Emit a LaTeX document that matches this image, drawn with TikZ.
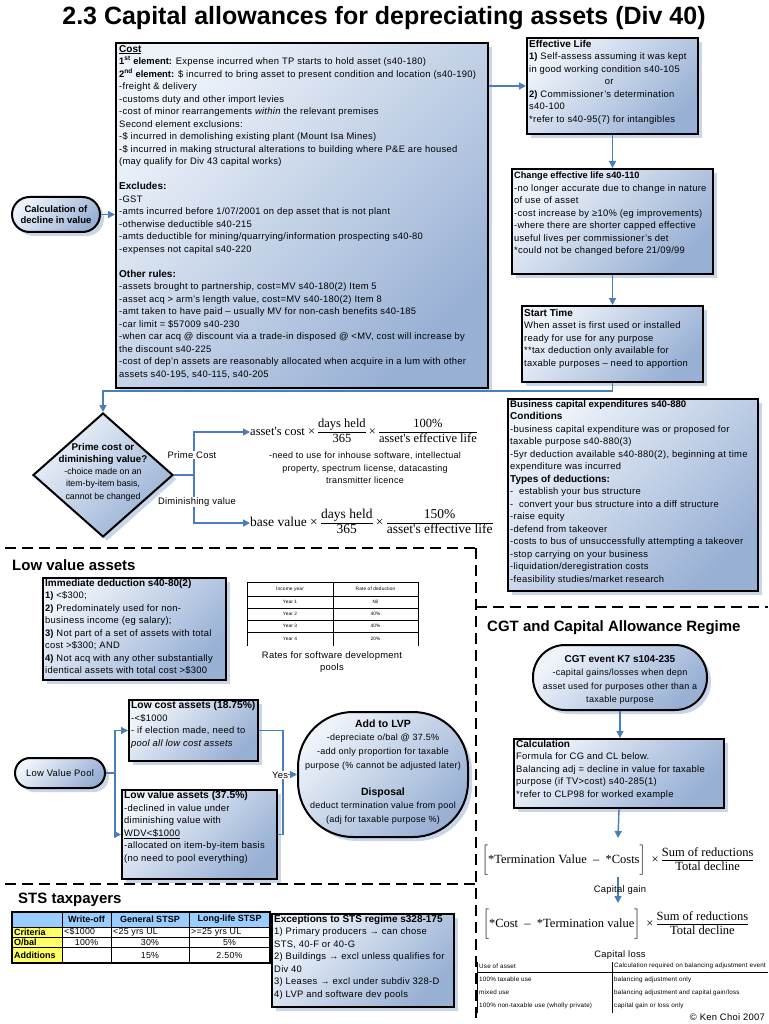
\documentclass[tikz,border=0pt]{standalone}
\usepackage{fontspec}
\setmainfont{Liberation Sans}[UprightFeatures={LetterSpace=3}, ItalicFeatures={LetterSpace=3}]
\newfontfamily\hdf{Liberation Sans}
\newfontfamily\tnr{Liberation Serif}
\usetikzlibrary{shapes.geometric,shadows,arrows.meta}
\definecolor{bxA}{HTML}{EEF3FA}
\definecolor{bxB}{HTML}{98B0D4}
\definecolor{shd}{HTML}{C9D6EA}
\definecolor{ln}{HTML}{4A7EBB}
\definecolor{hdb}{HTML}{99CCFF}
\definecolor{yel}{HTML}{FFFF66}
\newcommand\fsn{\fontsize{9.4}{12.5}\selectfont}
\newcommand\bhd[1]{{\fontsize{10}{12.5}\selectfont\bfseries #1}}
\newcommand\myfrac[2]{$\vcenter{\hbox{\begin{tabular}{@{}c@{}}#1\\\hline #2\end{tabular}}}$}
\begin{document}
\begin{tikzpicture}[x=1pt,y=-1pt,
 box/.style={draw=black, line width=2pt, top color=bxA, bottom color=bxB, shading angle=45,
   drop shadow={shadow xshift=4pt, shadow yshift=-4pt, fill=shd, opacity=1}, inner sep=0pt, anchor=north west},
 oval/.style={box, anchor=center},
 txt/.style={anchor=north west, align=left, inner sep=0pt, font=\fsn},
 conn/.style={draw=ln, line width=1.4pt},
 arr/.style={conn, -{Triangle[length=7pt,width=7pt]}},
 dsh/.style={draw=black, line width=1.6pt, dash pattern=on 11pt off 6pt},
 lbl/.style={font=\fsn, inner sep=1pt},
 tiny/.style={font=\fontsize{6.3}{7}\selectfont, inner sep=0pt, anchor=west},
 swt/.style={font=\fontsize{4.8}{6}\selectfont, inner sep=0pt},
 stst/.style={font=\fontsize{8.8}{10}\selectfont, inner sep=0pt},
 stsb/.style={font=\fontsize{9}{10}\selectfont\bfseries, inner sep=0pt},
 hding/.style={font=\fontsize{15}{17}\selectfont\bfseries, inner sep=0pt, anchor=west},
]
\useasboundingbox (0,0) rectangle (768,1024);
\fill[white] (0,0) rectangle (768,1024);

% title
\node[font=\fontsize{25}{28}\selectfont\bfseries, inner sep=0pt] (title) at (384,18) {2.3 Capital allowances for depreciating assets (Div 40)};

% dashed separators
\draw[dsh] (5,548) -- (476,548);
\draw[dsh] (476,548) -- (476,1022);
\draw[dsh] (476,607) -- (768,607);
\draw[dsh] (5,884) -- (476,884);

% Cost box
\node[box, minimum width=372pt, minimum height=345pt] (cost) at (115,42) {};
\node[txt] (costT) at (119,45) {\bhd{\underline{Cost}}\\
\textbf{1\textsuperscript{st} element:} Expense incurred when TP starts to hold asset (s40-180)\\
\textbf{2\textsuperscript{nd} element:} \$ incurred to bring asset to present condition and location (s40-190)\\
-freight \& delivery\\
-customs duty and other import levies\\
-cost of minor rearrangements \textit{within} the relevant premises\\
Second element exclusions:\\
-\$ incurred in demolishing existing plant (Mount Isa Mines)\\
-\$ incurred in making structural alterations to building where P\&E are housed\\
(may qualify for Div 43 capital works)\\
~\\
\bhd{Excludes:}\\
-GST\\
-amts incurred before 1/07/2001 on dep asset that is not plant\\
-otherwise deductible s40-215\\
-amts deductible for mining/quarrying/information prospecting s40-80\\
-expenses not capital s40-220\\
~\\
\bhd{Other rules:}\\
-assets brought to partnership, cost=MV s40-180(2) Item 5\\
-asset acq > arm's length value, cost=MV s40-180(2) Item 8\\
-amt taken to have paid – usually MV for non-cash benefits s40-185\\
-car limit = \$57009 s40-230\\
-when car acq @ discount via a trade-in disposed @ <MV, cost will increase by\\
the discount s40-225\\
-cost of dep'n assets are reasonably allocated when acquire in a lum with other\\
assets s40-195, s40-115, s40-205};

% Calculation of decline
\node[oval, minimum width=88pt, minimum height=35pt, rounded corners=17.5pt] (calc) at (56,214.5) {};
\node[font=\fontsize{9.5}{11.5}\selectfont\bfseries, align=center, inner sep=0pt] (calcT) at (calc.center) {Calculation of\\decline in value};
\draw[arr] (calc.east) -- (cost.west |- calc.east);

% Effective life
\node[box, minimum width=171pt, minimum height=96pt] (el) at (526,37) {};
\node[txt] (elT) at (529,40) {\bhd{Effective Life}\\
\textbf{1)} Self-assess assuming it was kept\\
in good working condition s40-105\\
\makebox[160pt]{or}\\
\textbf{2)} Commissioner's determination\\
s40-100\\
*refer to s40-95(7) for intangibles};
\draw[arr] (cost.east |- el.west) -- (el.west);

% Change effective life
\node[box, minimum width=201pt, minimum height=105pt] (chg) at (511,168) {};
\node[txt] (chgT) at (514,172) {{\fontsize{9.2}{12.5}\selectfont\bfseries Change effective life s40-110}\\
-no longer accurate due to change in nature\\
of use of asset\\
-cost increase by ≥10\% (eg improvements)\\
-where there are shorter capped effective\\
useful lives per commissioner's det\\
*could not be changed before 21/09/99};
\draw[arr] (el.south) -- (chg.north);

% Start time
\node[box, minimum width=181pt, minimum height=76pt] (start) at (521,305) {};
\node[txt] (startT) at (524,309) {\bhd{Start Time}\\
When asset is first used or installed\\
ready for use for any purpose\\
**tax deduction only available for\\
taxable purposes – need to apportion};
\draw[arr] (chg.south) -- (start.north);

% Business capital expenditures
\node[box, minimum width=250pt, minimum height=192pt] (bce) at (507,398) {};
\node[txt] (bceT) at (510,400) {{\fontsize{9.6}{12.5}\selectfont\bfseries Business capital expenditures s40-880}\\
\bhd{Conditions}\\
-business capital expenditure was or proposed for\\
taxable purpose s40-880(3)\\
-5yr deduction available s40-880(2), beginning at time\\
expenditure was incurred\\
\bhd{Types of deductions:}\\
-\ \ establish your bus structure\\
-\ \ convert your bus structure into a diff structure\\
-raise equity\\
-defend from takeover\\
-costs to bus of unsuccessfully attempting a takeover\\
-stop carrying on your business\\
-liquidation/deregistration costs\\
-feasibility studies/market research};

% Diamond
\node[draw=black, line width=2pt, shape=diamond, minimum width=140pt, minimum height=124pt, inner sep=0pt,
  top color=bxA, bottom color=bxB, shading angle=45,
  drop shadow={shadow xshift=4pt, shadow yshift=-4pt, fill=shd, opacity=1}] (diam) at (103,475) {};
\node[font=\hdf\fontsize{8.8}{12.3}\selectfont, align=center, inner sep=0pt] (diamT) at (103,472) {{\fontsize{9.8}{12.3}\selectfont\bfseries Prime cost or}\\
{\fontsize{9.8}{12.3}\selectfont\bfseries diminishing value?}\\
-choice made on an\\
item-by-item basis,\\
cannot be changed};
\coordinate (turn) at (0,391);
\draw[arr] (start.south) -- (start.south |- turn) -| (diam.north);

% formulas
\node[anchor=west, font=\tnr\fontsize{12.5}{14}\selectfont, inner sep=0pt] (f1) at (250,432)
 {asset's cost × \myfrac{days held}{365} × \myfrac{100\%}{asset's effective life}};
\node[anchor=west, font=\tnr\fontsize{13.5}{15}\selectfont, inner sep=0pt] (f2) at (250,523)
 {base value × \myfrac{days held}{365} × \myfrac{150\%}{asset's effective life}};
\node[font=\fontsize{9}{12.5}\selectfont, align=center, inner sep=0pt] (note) at (365,468)
 {-need to use for inhouse software, intellectual\\property, spectrum license, datacasting\\transmitter licence};
\coordinate (dj) at (194,475);
\draw[conn] (diam.east) -- (dj);
\draw[arr] (dj) |- (f1.west);
\draw[arr] (dj) |- (f2.west);
\node[lbl, fill=white] (pcl) at (192,455) {Prime Cost};
\node[lbl, fill=white] (dvl) at (197,502) {Diminishing value};

% Low value assets
\node[hding] (lvh) at (12,565) {Low value assets};
\node[box, minimum width=183pt, minimum height=102pt] (imm) at (42,577) {};
\node[txt] (immT) at (45,579) {\bhd{Immediate deduction s40-80(2)}\\
\textbf{1)} <\$300;\\
\textbf{2)} Predominately used for non-\\
business income (eg salary);\\
\textbf{3)} Not part of a set of assets with total\\
cost >\$300; AND\\
\textbf{4)} Not acq with any other substantially\\
identical assets with total cost >\$300};

% software table
\draw[line width=0.8pt] (247,582) -- (418,582) (247,596) -- (418,596) (247,608) -- (418,608)
  (247,620) -- (418,620) (247,632) -- (418,632);
\draw[line width=0.6pt] (247,582) -- (247,646) (333,582) -- (333,646) (418,582) -- (418,646);
\node[swt] (sw1) at (290,589) {Income year};
\node[swt] (sw2) at (375.5,589) {Rate of deduction};
\node[swt] (sw3) at (290,602) {Year 1};
\node[swt] (sw4) at (375.5,602) {Nil};
\node[swt] (sw5) at (290,614) {Year 2};
\node[swt] (sw6) at (375.5,614) {40\%};
\node[swt] (sw7) at (290,626) {Year 3};
\node[swt] (sw8) at (375.5,626) {40\%};
\node[swt] (sw9) at (290,639) {Year 4};
\node[swt] (sw10) at (375.5,639) {20\%};
\node[font=\fontsize{9.4}{12.5}\selectfont, align=center, inner sep=0pt] (swcap) at (332,662) {Rates for software development\\pools};

% Low value pool
\node[oval, minimum width=90pt, minimum height=30pt, rounded corners=15pt] (lvp) at (60,773) {};
\node[font=\fsn, inner sep=0pt] (lvpT) at (lvp.center) {Low Value Pool};
\node[box, minimum width=129pt, minimum height=61pt] (lca) at (128,699) {};
\node[txt] (lcaT) at (131,701) {{\fontsize{10.3}{12.5}\selectfont\bfseries Low cost assets (18.75\%)}\\
-<\$1000\\
- if election made, need to\\
\textit{pool all low cost assets}};
\node[box, minimum width=155pt, minimum height=89pt] (lva) at (121,789) {};
\node[txt] (lvaT) at (124,791) {{\fontsize{10.3}{12.5}\selectfont\bfseries Low value assets (37.5\%)}\\
-declined in value under\\
diminishing value with\\
\underline{WDV<\$1000}\\
-allocated on item-by-item basis\\
(no need to pool everything)};
\coordinate (lvpj) at (115,773);
\draw[conn] (lvp.east) -- (lvpj);
\draw[arr] (lvpj) |- (lca.west);
\draw[arr] (lvpj) |- (lva.west);

\node[oval, minimum width=170pt, minimum height=125pt, rounded corners=55pt] (addl) at (383,774.5) {};
\node[font=\fontsize{9}{13.6}\selectfont, align=center, inner sep=0pt] (addlT) at (383,772) {{\fontsize{10.5}{13.6}\selectfont\bfseries Add to LVP}\\
-depreciate o/bal @ 37.5\%\\
-add only proportion for taxable\\
purpose (\% cannot be adjusted later)\\
~\\
{\fontsize{10.5}{13.6}\selectfont\bfseries Disposal}\\
deduct termination value from pool\\
(adj for taxable purpose \%)};
\coordinate (jn) at (283,774.5);
\draw[conn] (lca.east) -| (jn);
\draw[conn] (lva.east) -| (jn);
\draw[arr] (jn) -- (addl.west);
\node[lbl, fill=white, inner sep=0.5pt] (yes) at (280,775) {Yes};

% STS taxpayers
\node[hding] (stsh) at (18,900) {STS taxpayers};
\fill[hdb] (12,912) rectangle (270,927);
\fill[yel] (12,927) rectangle (62,963);
\draw[line width=0.6pt] (12,927) -- (270,927) (12,937) -- (270,937) (12,947) -- (270,947)
  (62,912) -- (62,963) (111,912) -- (111,963) (189,912) -- (189,963);
\draw[line width=1.8pt] (12,912) rectangle (270,963);
\node[stsb] (s1) at (86.5,919.5) {Write-off};
\node[stsb] (s2) at (150,919.5) {General STSP};
\node[stsb] (s3) at (229.5,919.5) {Long-life STSP};
\node[stsb, anchor=west] (s4) at (14,932) {Criteria};
\node[stsb, anchor=west] (s5) at (14,942) {O/bal};
\node[stsb, anchor=west] (s6) at (14,955) {Additions};
\node[stst, anchor=west] (s7) at (64,932) {<\$1000};
\node[stst, anchor=west] (s8) at (113,932) {<25 yrs UL};
\node[stst, anchor=west] (s9) at (191,932) {>=25 yrs UL};
\node[stst] (s10) at (86.5,942) {100\%};
\node[stst] (s11) at (150,942) {30\%};
\node[stst] (s12) at (229.5,942) {5\%};
\node[stst] (s13) at (150,955) {15\%};
\node[stst] (s14) at (229.5,955) {2.50\%};

\node[box, minimum width=182pt, minimum height=93pt] (exc) at (271,913) {};
\node[txt] (excT) at (274,915) {\bhd{Exceptions to STS regime s328-175}\\
1) Primary producers → can chose\\
STS, 40-F or 40-G\\
2) Buildings → excl unless qualifies for\\
Div 40\\
3) Leases → excl under subdiv 328-D\\
4) LVP and software dev pools};

% CGT
\node[hding] (cgth) at (487,628) {CGT and Capital Allowance Regime};
\node[oval, minimum width=174pt, minimum height=65pt, rounded corners=32pt] (k7) at (620,677.5) {};
\node[font=\fontsize{9}{13.5}\selectfont, align=center, inner sep=0pt] (k7T) at (620,680) {{\fontsize{10}{13.5}\selectfont\bfseries CGT event K7 s104-235}\\
-capital gains/losses when depn\\
asset used for purposes other than a\\
taxable purpose};
\node[box, minimum width=210pt, minimum height=69pt] (cgc) at (513,738) {};
\node[txt] (cgcT) at (516,740) {\bhd{Calculation}\\
Formula for CG and CL below.\\
Balancing adj = decline in value for taxable\\
purpose (if TV>cost) s40-285(1)\\
*refer to CLP98 for worked example};
\draw[arr] (k7.south) -- (k7.south |- cgc.north);
\coordinate (cgend) at (618,838);
\draw[arr] (cgc.south) -- (cgend);

\node[anchor=west, font=\tnr\fontsize{12.5}{14}\selectfont, inner sep=0pt] (cgf1) at (482,861)
 {$\left[\rule[-13pt]{0pt}{31pt}\mbox{*Termination Value \ – \ *Costs}\right]$ \ × \myfrac{Sum of reductions}{Total decline}};
\node[anchor=west, font=\tnr\fontsize{12.5}{14}\selectfont, inner sep=0pt] (cgf2) at (483,925)
 {$\left[\rule[-13pt]{0pt}{31pt}\mbox{*Cost \ – \ *Termination value}\right]$ \ × \myfrac{Sum of reductions}{Total decline}};
\coordinate (cga) at (618,877);
\coordinate (cgb) at (618,903);
\draw[arr] (cga) -- (cgb);
\node[font=\fontsize{9.4}{11}\selectfont, inner sep=0pt] (cgl) at (620,890) {Capital gain};
\node[font=\fontsize{9.4}{11}\selectfont, inner sep=0pt] (cll) at (620,955) {Capital loss};

% CGT table
\draw[line width=0.6pt] (477,972) -- (768,972) (612,962) -- (612,1013) (477,962) -- (477,1013);
\node[tiny] (c1) at (479,966) {Use of asset};
\node[tiny] (c2) at (614,966) {Calculation required on balancing adjustment event};
\node[tiny] (c3) at (479,979.5) {100\% taxable use};
\node[tiny] (c4) at (614,979.5) {balancing adjustment only};
\node[tiny] (c5) at (479,992.5) {mixed use};
\node[tiny] (c6) at (614,992.5) {balancing adjustment and capital gain/loss};
\node[tiny] (c7) at (479,1005.5) {100\% non-taxable use (wholly private)};
\node[tiny] (c8) at (614,1005.5) {capital gain or loss only};

\node[font=\fontsize{9.4}{10}\selectfont, inner sep=0pt, anchor=east] (copy) at (765,1017) {© Ken Choi 2007};
\end{tikzpicture}
\end{document}
